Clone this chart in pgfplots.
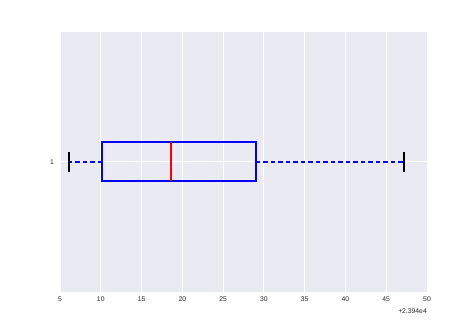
\documentclass[border=0pt]{standalone}
\usepackage{pgfplots}
\pgfplotsset{compat=1.18}
\usepgfplotslibrary{statistics}
\usepackage{fontspec}
\setmainfont{Liberation Sans}
\definecolor{bgc}{HTML}{EAEAF2}
\definecolor{txt}{HTML}{262626}
\begin{document}
\begin{tikzpicture}
\path[use as bounding box] (0,0) rectangle (474pt,324pt);
\begin{axis}[
  at={(60pt,32pt)}, anchor=south west,
  scale only axis, width=367pt, height=260pt,
  xmin=5, xmax=50, ymin=0.5, ymax=1.5,
  clip=false,
  xtick={5,10,...,50}, ytick={1},
  axis background/.style={fill=bgc},
  axis line style={draw=none},
  major tick length=0pt,
  grid=major, major grid style={white, line width=1pt},
  tick label style={font=\fontsize{6.8}{7}\selectfont, text=txt},
  /pgf/number format/assume math mode=true,
  xticklabel style={inner sep=0pt, anchor=north, yshift=-5pt},
  yticklabel style={inner sep=0pt, anchor=east, xshift=-6pt},
  boxplot/draw direction=x,
  boxplot/draw/box/.code={
    \draw[blue, solid, line width=2pt]
      (boxplot box cs:\pgfplotsboxplotvalue{lower quartile},0) rectangle
      (boxplot box cs:\pgfplotsboxplotvalue{upper quartile},1);
  },
  boxplot/draw/median/.code={
    \draw[red, solid, line width=1.5pt]
      (boxplot box cs:\pgfplotsboxplotvalue{median},0) --
      (boxplot box cs:\pgfplotsboxplotvalue{median},1);
  },
  boxplot/draw/lower whisker/.code={
    \draw[blue, line width=1.3pt, dash pattern=on 4.5pt off 3pt]
      (boxplot box cs:\pgfplotsboxplotvalue{lower quartile},0.5) --
      (boxplot box cs:\pgfplotsboxplotvalue{lower whisker},0.5);
    \draw[black, solid, line width=1.5pt]
      (boxplot whisker cs:\pgfplotsboxplotvalue{lower whisker},0) --
      (boxplot whisker cs:\pgfplotsboxplotvalue{lower whisker},1);
  },
  boxplot/draw/upper whisker/.code={
    \draw[blue, line width=1.3pt, dash pattern=on 4.5pt off 3pt]
      (boxplot box cs:\pgfplotsboxplotvalue{upper quartile},0.5) --
      (boxplot box cs:\pgfplotsboxplotvalue{upper whisker},0.5);
    \draw[black, solid, line width=1.5pt]
      (boxplot whisker cs:\pgfplotsboxplotvalue{upper whisker},0) --
      (boxplot whisker cs:\pgfplotsboxplotvalue{upper whisker},1);
  },
]
\addplot[blue,
  boxplot prepared={lower whisker=6.1, lower quartile=10.2, median=18.6,
    upper quartile=29.0, upper whisker=47.2, draw position=1,
    box extend=0.15, whisker extend=0.08}]
  coordinates {};
\node[anchor=north east, inner sep=0pt, font=\fontsize{6.8}{7}\selectfont, text=txt]
  at (rel axis cs:1,0) [yshift=-17pt] {+2.394e4};
\end{axis}
\end{tikzpicture}
\end{document}
